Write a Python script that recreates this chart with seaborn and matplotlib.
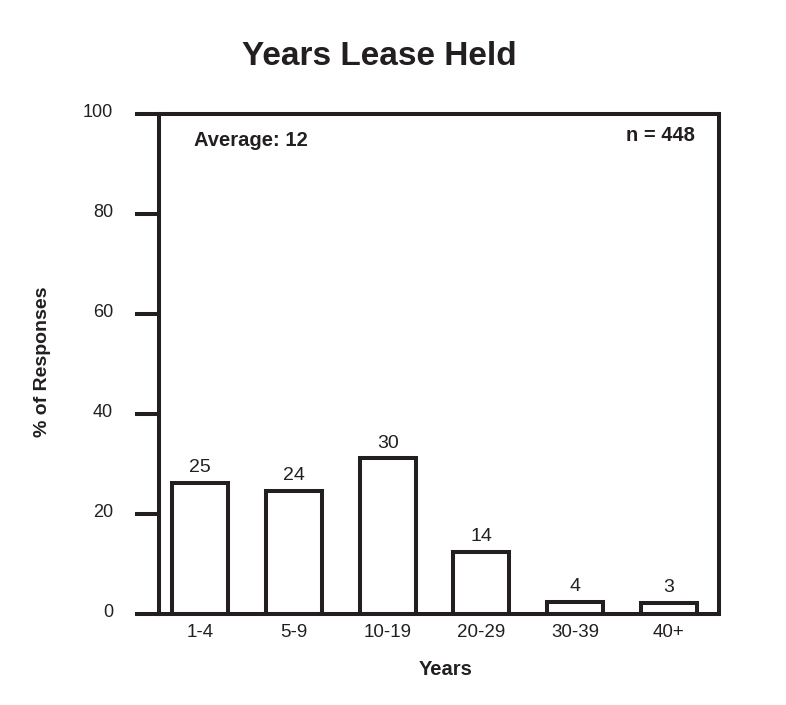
import matplotlib
matplotlib.use("Agg")
import matplotlib.pyplot as plt
import matplotlib.transforms as mtransforms
import seaborn as sns
import pandas as pd

# ---- data ----
categories = ["1-4", "5-9", "10-19", "20-29", "30-39", "40+"]
bar_heights = [26.2, 24.6, 31.1, 12.4, 2.4, 2.2]      # heights as drawn
value_labels = ["25", "24", "30", "14", "4", "3"]      # printed labels
y_ticks = [0, 20, 40, 60, 80, 100]
title_text = "Years Lease Held"
x_label = "Years"
y_label = "% of Responses"
average_text = "Average: 12"
n_text = "n = 448"

INK = "#231f20"

sns.set_style("white")
plt.rcParams["font.family"] = ["Liberation Sans", "DejaVu Sans"]

fig = plt.figure(figsize=(7.86, 7.05), dpi=100)
ax = fig.add_axes([0.2027, 0.1291, 0.7117, 0.7092])

df = pd.DataFrame({"cat": categories, "val": bar_heights})
sns.barplot(data=df, x="cat", y="val", ax=ax, color="white", saturation=1,
            edgecolor=INK, linewidth=2.9, width=0.6, zorder=3)

ax.set_xlim(-0.437, 5.533)
ax.set_ylim(0, 100)
ax.set_yticks(y_ticks)
ax.set_yticklabels([str(t) for t in y_ticks])

for s in ax.spines.values():
    s.set_visible(True)
    s.set_linewidth(2.9)
    s.set_color(INK)
    s.set_zorder(4)

ax.tick_params(axis="y", direction="out", length=17.3, width=2.9, color=INK,
               pad=16, labelsize=13, labelcolor=INK, left=True)
ax.tick_params(axis="x", length=0, pad=7.5, labelsize=13.5, labelcolor=INK)

shift = mtransforms.ScaledTranslation(0, 2.5 / 72, fig.dpi_scale_trans)
for lab in ax.get_yticklabels():
    lab.set_transform(lab.get_transform() + shift)

ax.bar_label(ax.containers[0], labels=value_labels, padding=5,
             fontsize=14, color=INK)

ax.set_xlabel(x_label, fontsize=14.5, fontweight="bold", color=INK)
ax.xaxis.label.set_va("baseline")
ax.xaxis.set_label_coords(0.512, -0.1218)

ax.set_ylabel(y_label, fontsize=14, fontweight="bold", color=INK)
ax.yaxis.label.set_va("center")
ax.yaxis.set_label_coords(-0.209, 0.504)

ax.text(0.0625, 0.936, average_text, transform=ax.transAxes, fontsize=14.5,
        fontweight="bold", color=INK, ha="left", va="baseline")
ax.text(0.957, 0.946, n_text, transform=ax.transAxes, fontsize=14.5,
        fontweight="bold", color=INK, ha="right", va="baseline")

fig.text(0.482, 0.9078, title_text, fontsize=24, fontweight="bold",
         color=INK, ha="center", va="baseline")

fig.savefig("out.png", dpi=100, facecolor="white")
